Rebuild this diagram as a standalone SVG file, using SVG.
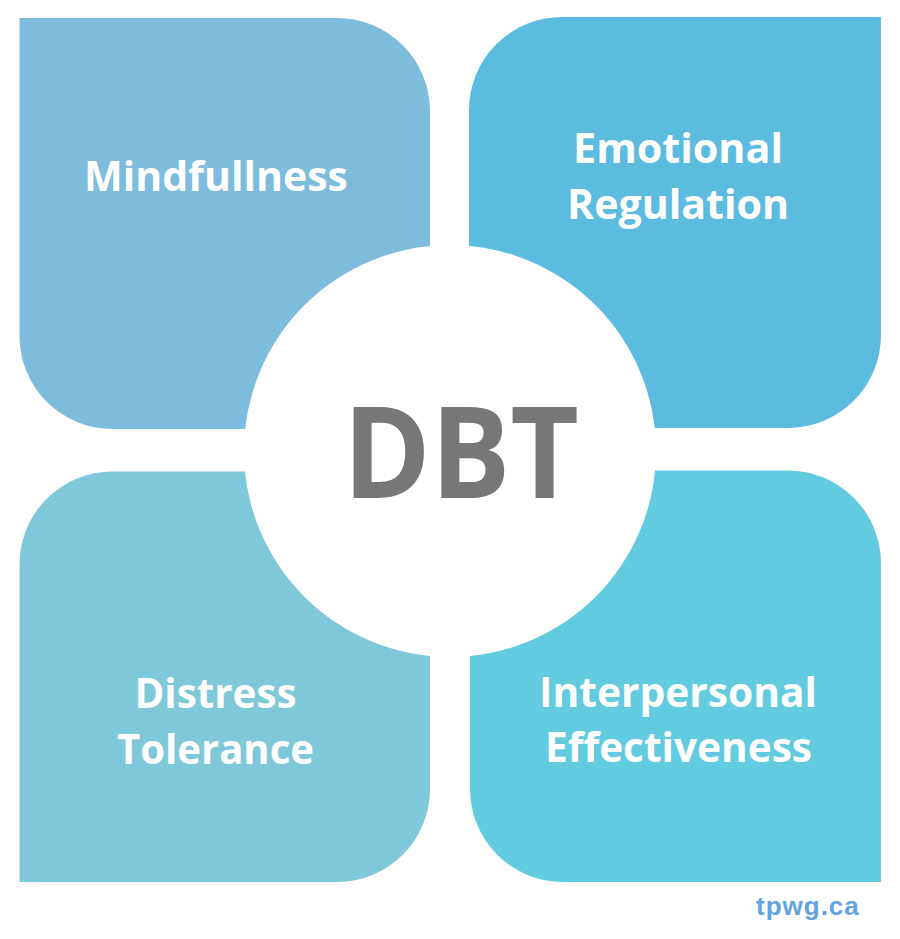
<svg xmlns="http://www.w3.org/2000/svg" width="900" height="939" viewBox="0 0 900 939">
<style>
.lbl{font-family:"Open Sans","Liberation Sans",sans-serif;font-weight:700;font-size:42px;fill:#ffffff;text-anchor:middle}
.title{font-family:"Open Sans","Liberation Sans",sans-serif;font-weight:700;font-size:127px;fill:#777777;text-anchor:middle}
.credit{font-family:"Liberation Sans",Arial,sans-serif;font-weight:700;font-size:26px;fill:#62A2DE;letter-spacing:1px}
</style>
<rect width="900" height="939" fill="#ffffff"/>
<g id="mindfulness">
<path d="M19.5,18 H337 A93,93 0 0 1 430,111 V429 H112.5 A93,93 0 0 1 19.5,336 Z" fill="#7DBCDD"/>
<text class="lbl" x="216" y="190.5" textLength="264" lengthAdjust="spacingAndGlyphs">Mindfullness</text>
</g>
<g id="emotional-regulation">
<path d="M562,17 H881 V335 A93,93 0 0 1 788,428 H469 V110 A93,93 0 0 1 562,17 Z" fill="#5CBCE0"/>
<text class="lbl" x="678" y="163.3" textLength="210" lengthAdjust="spacingAndGlyphs">Emotional</text>
<text class="lbl" x="678" y="219" textLength="222" lengthAdjust="spacingAndGlyphs">Regulation</text>
</g>
<g id="distress-tolerance">
<path d="M112.5,471.5 H430 V789 A93,93 0 0 1 337,882 H19.5 V564.5 A93,93 0 0 1 112.5,471.5 Z" fill="#7EC8D9"/>
<text class="lbl" x="215.5" y="708" textLength="162" lengthAdjust="spacingAndGlyphs">Distress</text>
<text class="lbl" x="215.5" y="764" textLength="197" lengthAdjust="spacingAndGlyphs">Tolerance</text>
</g>
<g id="interpersonal-effectiveness">
<path d="M470,470.5 H788 A93,93 0 0 1 881,563.5 V882 H563 A93,93 0 0 1 470,789 Z" fill="#62CBE0"/>
<text class="lbl" x="678" y="706.7" textLength="278" lengthAdjust="spacingAndGlyphs">Interpersonal</text>
<text class="lbl" x="678.5" y="761.7" textLength="267" lengthAdjust="spacingAndGlyphs">Effectiveness</text>
</g>
<g id="dbt">
<circle cx="450" cy="451" r="206" fill="#ffffff"/>
<text class="title" x="461" y="498" textLength="236" lengthAdjust="spacingAndGlyphs">DBT</text>
</g>
<g id="connectors"></g>
<text class="credit" x="756" y="915">tpwg.ca</text>
</svg>
